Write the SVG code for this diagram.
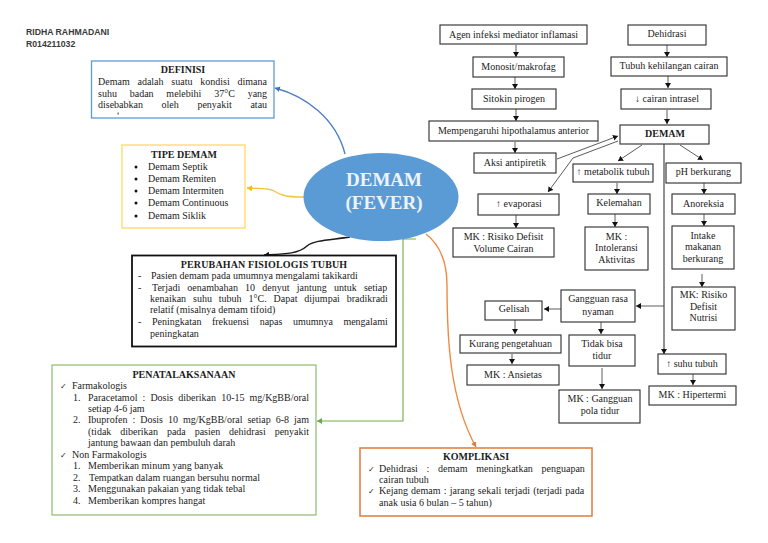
<svg xmlns="http://www.w3.org/2000/svg" width="768" height="543" viewBox="0 0 768 543">
<style>
text{font-family:"Liberation Serif","Times New Roman",serif;font-size:10px;fill:#1c1c1c}
.c{text-anchor:middle}
.b{font-weight:bold;font-size:10px}
.h{font-family:"Liberation Sans",Arial,sans-serif;font-weight:bold;font-size:8.7px;fill:#3a3a3a}
.k{font-family:"DejaVu Sans",sans-serif;font-size:8px}
.n{fill:#fff;stroke:#2a2a2a;stroke-width:1.1}
.e{fill:none;stroke:#4a4a4a;stroke-width:.9}
.ft{font-size:19px;font-weight:bold;fill:#eef3fa}
</style>
<defs>
<marker id="ak" markerUnits="userSpaceOnUse" markerWidth="6" markerHeight="6" refX="5" refY="3" orient="auto"><path d="M0,0L5,3L0,6Z" fill="#111"/></marker>
<marker id="ab" markerUnits="userSpaceOnUse" markerWidth="6" markerHeight="6" refX="5" refY="3" orient="auto"><path d="M0,0L5,3L0,6Z" fill="#4472b8"/></marker>
<marker id="ay" markerUnits="userSpaceOnUse" markerWidth="6" markerHeight="6" refX="5" refY="3" orient="auto"><path d="M0,0L5,3L0,6Z" fill="#f5b928"/></marker>
<marker id="ag" markerUnits="userSpaceOnUse" markerWidth="6" markerHeight="6" refX="5" refY="3" orient="auto"><path d="M0,0L5,3L0,6Z" fill="#6aa84f"/></marker>
<marker id="ao" markerUnits="userSpaceOnUse" markerWidth="6" markerHeight="6" refX="5" refY="3" orient="auto"><path d="M0,0L5,3L0,6Z" fill="#e07b39"/></marker>
</defs>
<rect width="768" height="543" fill="#fff"/>
<g id="author"><text class="h" x="26" y="35">RIDHA RAHMADANI</text><text class="h" x="26" y="47">R014211032</text></g>

<g id="connectors">
<path d="M345,154C336,118 305,96 275,88" fill="none" stroke="#4f81bd" stroke-width="1.4" marker-end="url(#ab)"/>
<path d="M304,197C285,197 280,195 274,191C268,187 258,189 247,188" fill="none" stroke="#f5c242" stroke-width="1.4" marker-end="url(#ay)"/>
<path d="M350,237C330,240 314,240 307,246C298,254 285,254 264,255" fill="none" stroke="#1a1a1a" stroke-width="1.5" marker-end="url(#ak)"/>
<path d="M416,239H403V421H317" fill="none" stroke="#70ad47" stroke-width="1.1" marker-end="url(#ag)"/>
<path d="M426,234C440,245 447,262 447,285C447,340 450,400 476,447" fill="none" stroke="#ed8b45" stroke-width="1.4" marker-end="url(#ao)"/>
<g class="arrows">
<path class="e" d="M516,45V57" marker-end="url(#ak)"/>
<path class="e" d="M515,77V89" marker-end="url(#ak)"/>
<path class="e" d="M516,109V121" marker-end="url(#ak)"/>
<path class="e" d="M515,142V153" marker-end="url(#ak)"/>
<path class="e" d="M667,45V57" marker-end="url(#ak)"/>
<path class="e" d="M668,76V88" marker-end="url(#ak)"/>
<path class="e" d="M667,110V124" marker-end="url(#ak)"/>
<path class="e" d="M557,159L618,136" marker-end="url(#ak)"/>
<path class="e" d="M618,141L573,158L548,192" marker-end="url(#ak)"/>
<path class="e" d="M642,145L618,161" marker-end="url(#ak)"/>
<path class="e" d="M680,145L703,160" marker-end="url(#ak)"/>
<path class="e" d="M617,183V194" marker-end="url(#ak)"/>
<path class="e" d="M704,183V194" marker-end="url(#ak)"/>
<path class="e" d="M516,215V228" marker-end="url(#ak)"/>
<path class="e" d="M615,214V227" marker-end="url(#ak)"/>
<path class="e" d="M704,214V226" marker-end="url(#ak)"/>
<path class="e" d="M702,274V287" marker-end="url(#ak)"/>
<path d="M664,144V354" fill="none" stroke="#222" stroke-width="1" marker-end="url(#ak)"/>
<path class="e" d="M664,306H636" marker-end="url(#ak)"/>
<path class="e" d="M561,309H544" marker-end="url(#ak)"/>
<path class="e" d="M515,320V334" marker-end="url(#ak)"/>
<path class="e" d="M512,354V364" marker-end="url(#ak)"/>
<path class="e" d="M601,322V334" marker-end="url(#ak)"/>
<path class="e" d="M602,368V389" marker-end="url(#ak)"/>
<path class="e" d="M693,374V385" marker-end="url(#ak)"/>
</g>
</g>

<g id="demam-fever"><ellipse cx="381" cy="197" rx="77.5" ry="44" fill="#5b9bd5"/><text class="c ft" x="384" y="186">DEMAM</text><text class="c ft" x="384" y="209">(FEVER)</text></g>

<g id="definisi"><rect x="91.5" y="61" width="182.5" height="57" fill="#fff" stroke="#5b9bd5" stroke-width="1.3"/>
<text class="c b" x="183" y="73">DEFINISI</text>
<text x="98" y="85" word-spacing="5.3">Demam adalah suatu kondisi dimana</text>
<text x="98" y="96.5" word-spacing="10.3">suhu badan melebihi 37°C yang</text>
<text x="98" y="108" word-spacing="16.1">disebabkan oleh penyakit atau</text>
<rect x="117.6" y="112.5" width="1" height="2" fill="#333"/></g>

<g id="tipe-demam"><rect x="122" y="145" width="123" height="83" fill="#fff" stroke="#ffd966" stroke-width="1.3"/>
<text class="c b" x="184" y="158">TIPE DEMAM</text>
<circle cx="136" cy="167" r="1.5" fill="#111"/><text x="148" y="170">Demam Septik</text>
<circle cx="136" cy="179" r="1.5" fill="#111"/><text x="148" y="182">Demam Remiten</text>
<circle cx="136" cy="191" r="1.5" fill="#111"/><text x="148" y="194">Demam Intermiten</text>
<circle cx="136" cy="203" r="1.5" fill="#111"/><text x="148" y="206">Demam Continuous</text>
<circle cx="136" cy="216" r="1.5" fill="#111"/><text x="148" y="219">Demam Siklik</text></g>

<g id="perubahan-fisiologis"><rect x="132" y="255.5" width="264" height="91" fill="#fff" stroke="#111" stroke-width="1.8"/>
<text class="c b" x="264" y="268" letter-spacing=".15">PERUBAHAN FISIOLOGIS TUBUH</text>
<text x="138" y="279">-</text><text x="151" y="279">Pasien demam pada umumnya mengalami takikardi</text>
<text x="138" y="291">-</text>
<text x="152" y="291" word-spacing="4.7">Terjadi oenambahan 10 denyut jantung untuk setiap</text>
<text x="150" y="301.5" word-spacing="4.4">kenaikan suhu tubuh 1°C. Dapat dijumpai bradikradi</text>
<text x="150" y="313">relatif (misalnya demam tifoid)</text>
<text x="138" y="325">-</text>
<text x="152" y="325" word-spacing="8">Peningkatan frekuensi napas umumnya mengalami</text>
<text x="150" y="337">peningkatan</text></g>

<g id="penatalaksanaan"><rect x="52" y="365" width="264" height="150" fill="#fff" stroke="#8cbb6c" stroke-width="1.2"/>
<text class="c b" x="184" y="378">PENATALAKSANAAN</text>
<text class="k" x="60" y="389">✓</text><text x="72" y="389">Farmakologis</text>
<text x="73" y="401">1.</text>
<text x="88" y="401" word-spacing="2.6">Paracetamol : Dosis diberikan 10-15 mg/KgBB/oral</text>
<text x="88" y="412">setiap 4-6 jam</text>
<text x="73" y="423">2.</text>
<text x="88" y="423" word-spacing="2.5">Ibuprofen : Dosis 10 mg/KgBB/oral setiap 6-8 jam</text>
<text x="88" y="435" word-spacing="6.4">(tidak diberikan pada pasien dehidrasi penyakit</text>
<text x="88" y="446">jantung bawaan dan pembuluh darah</text>
<text class="k" x="60" y="458">✓</text><text x="72" y="458">Non Farmakologis</text>
<text x="73" y="469">1.</text><text x="88" y="469">Memberikan minum yang banyak</text>
<text x="73" y="481">2.</text><text x="89" y="481">Tempatkan dalam ruangan bersuhu normal</text>
<text x="73" y="492">3.</text><text x="88" y="492">Menggunakan pakaian yang tidak tebal</text>
<text x="73" y="504">4.</text><text x="88" y="504">Memberikan kompres hangat</text></g>

<g id="komplikasi"><rect x="360" y="448" width="232" height="68" fill="#fff" stroke="#e07b39" stroke-width="1.5"/>
<text class="c b" x="476" y="460">KOMPLIKASI</text>
<text class="k" x="368" y="472">✓</text>
<text x="379" y="472" word-spacing="6.2">Dehidrasi : demam meningkatkan penguapan</text>
<text x="379" y="483">cairan tubuh</text>
<text class="k" x="368" y="494">✓</text><text x="379" y="494" word-spacing=".7">Kejang demam : jarang sekali terjadi (terjadi pada</text>
<text x="379" y="506">anak usia 6 bulan – 5 tahun)</text></g>

<g id="agen"><rect class="n" x="440" y="25" width="147" height="19"/><text class="c" x="513.5" y="38">Agen infeksi mediator inflamasi</text></g>
<g id="monosit"><rect class="n" x="473" y="57" width="91" height="20"/><text class="c" x="518.5" y="70">Monosit/makrofag</text></g>
<g id="sitokin"><rect class="n" x="472" y="89" width="84" height="20"/><text class="c" x="514" y="102">Sitokin pirogen</text></g>
<g id="hipothalamus"><rect class="n" x="429" y="121" width="169" height="20"/><text class="c" x="513.5" y="134">Mempengaruhi hipothalamus anterior</text></g>
<g id="aksi"><rect class="n" x="474" y="153" width="82" height="20"/><text class="c" x="515" y="166">Aksi antipiretik</text></g>
<g id="dehidrasi"><rect class="n" x="628" y="25" width="78" height="20"/><text class="c" x="667" y="37">Dehidrasi</text></g>
<g id="kehilangan"><rect class="n" x="611" y="57" width="116" height="19"/><text class="c" x="669" y="69">Tubuh kehilangan cairan</text></g>
<g id="intrasel"><rect class="n" x="621" y="89" width="90" height="20"/><text class="c" x="667" y="102">↓ cairan intrasel</text></g>
<g id="demam"><rect class="n" x="620" y="125" width="89" height="19"/><text class="c b" x="665" y="137">DEMAM</text></g>
<g id="metabolik"><rect class="n" x="573" y="164" width="80" height="18"/><text class="c" x="613" y="175">↑ metabolik tubuh</text></g>
<g id="ph"><rect class="n" x="666" y="163" width="75" height="20"/><text class="c" x="703.5" y="175">pH berkurang</text></g>
<g id="evaporasi"><rect class="n" x="478" y="194" width="81" height="21"/><text class="c" x="519" y="207">↑ evaporasi</text></g>
<g id="mk-volume"><rect class="n" x="453" y="228" width="101" height="29"/><text class="c" x="503.5" y="240">MK : Risiko Defisit</text><text class="c" x="503.5" y="252">Volume Cairan</text></g>
<g id="kelemahan"><rect class="n" x="588" y="194" width="62" height="20"/><text class="c" x="619" y="206">Kelemahan</text></g>
<g id="mk-intoleransi"><rect class="n" x="585" y="227" width="63" height="43"/><text class="c" x="616.5" y="240">MK :</text><text class="c" x="616.5" y="251">Intoleransi</text><text class="c" x="616.5" y="263">Aktivitas</text></g>
<g id="anoreksia"><rect class="n" x="672" y="194" width="63" height="20"/><text class="c" x="703.5" y="207">Anoreksia</text></g>
<g id="intake"><rect class="n" x="672" y="226" width="62" height="43"/><text class="c" x="703" y="239">Intake</text><text class="c" x="703" y="250">makanan</text><text class="c" x="703" y="262">berkurang</text></g>
<g id="mk-nutrisi"><rect class="n" x="672" y="287" width="63" height="43"/><text class="c" x="703.5" y="298">MK: Risiko</text><text class="c" x="703.5" y="310">Defisit</text><text class="c" x="703.5" y="321">Nutrisi</text></g>
<g id="gangguan"><rect class="n" x="561" y="290" width="74" height="32"/><text class="c" x="598" y="302">Gangguan rasa</text><text class="c" x="598" y="315">nyaman</text></g>
<g id="gelisah"><rect class="n" x="485" y="301" width="57" height="19"/><text class="c" x="514" y="312">Gelisah</text></g>
<g id="kurang"><rect class="n" x="460" y="335" width="101" height="18"/><text class="c" x="510.5" y="347">Kurang pengetahuan</text></g>
<g id="mk-ansietas"><rect class="n" x="467" y="365" width="92" height="20"/><text class="c" x="513" y="378">MK : Ansietas</text></g>
<g id="tidak-tidur"><rect class="n" x="569" y="335" width="66" height="31"/><text class="c" x="602" y="347">Tidak bisa</text><text class="c" x="602" y="359">tidur</text></g>
<g id="mk-pola"><rect class="n" x="559" y="390" width="81" height="33"/><text class="c" x="600" y="402">MK : Gangguan</text><text class="c" x="600" y="414">pola tidur</text></g>
<g id="suhu"><rect class="n" x="658" y="354" width="68" height="20"/><text class="c" x="692" y="367">↑ suhu tubuh</text></g>
<g id="mk-hipertermi"><rect class="n" x="649" y="386" width="87" height="19"/><text class="c" x="692.5" y="398">MK : Hipertermi</text></g>
</svg>
